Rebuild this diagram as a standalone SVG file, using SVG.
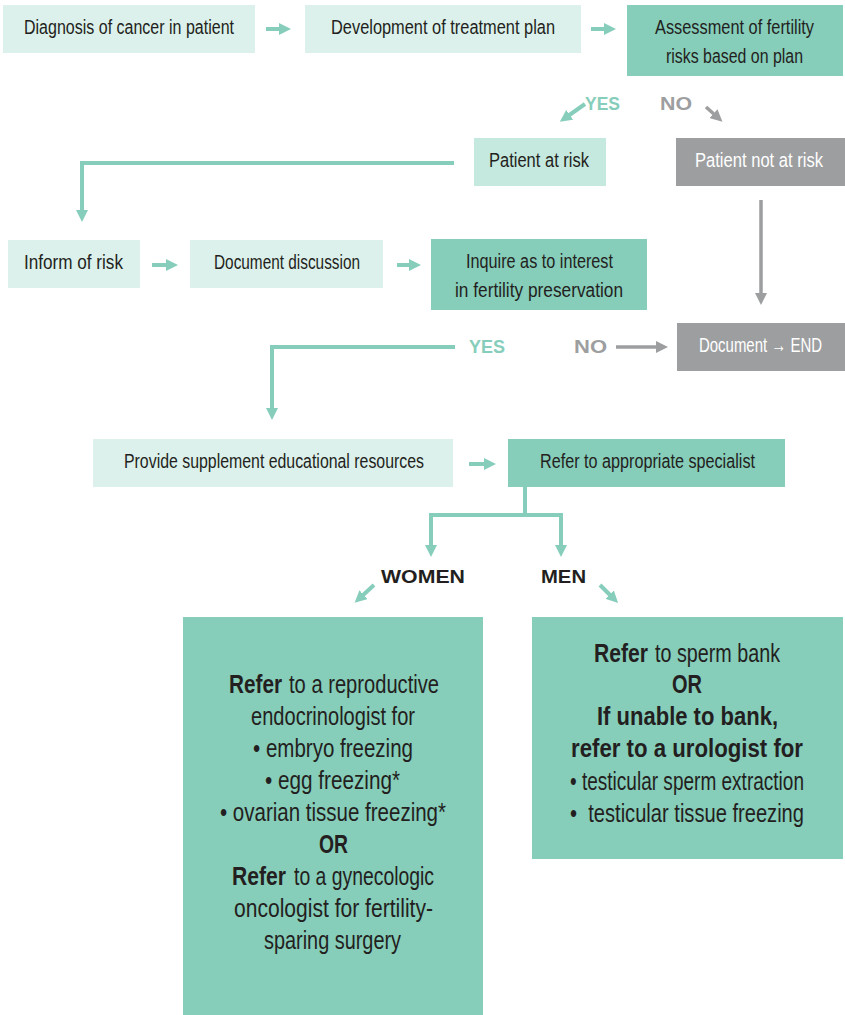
<svg xmlns="http://www.w3.org/2000/svg" width="845" height="1015" viewBox="0 0 845 1015">
<style>
text{font-family:"Liberation Sans",Arial,sans-serif;fill:#231f20}
.r{font-size:20px}
.b{font-size:25px}
.lbl{font-size:18px;font-weight:bold}
.bb{font-weight:bold}
.w{fill:#ffffff}
.lt{fill:#dcf1eb}
.md{fill:#c5e8df}
.dk{fill:#86cdba}
.gy{fill:#9d9ea0}
.cg{fill:none;stroke:#86cebb;stroke-width:4}
.cy{fill:none;stroke:#9d9ea0;stroke-width:3.5}
</style>
<defs>
<marker id="ag" viewBox="0 0 12 12" refX="2" refY="6" markerWidth="12" markerHeight="12" markerUnits="userSpaceOnUse" orient="auto"><path d="M0,0 L12,6 L0,12 z" fill="#86cebb"/></marker>
<marker id="ay" viewBox="0 0 12 12" refX="2" refY="6" markerWidth="12" markerHeight="12" markerUnits="userSpaceOnUse" orient="auto"><path d="M0,0 L12,6 L0,12 z" fill="#9d9ea0"/></marker>
</defs>
<rect width="845" height="1015" fill="#ffffff"/>
<g id="connectors">
<line class="cg" x1="266" y1="29" x2="281" y2="29" marker-end="url(#ag)"/>
<line class="cg" x1="591" y1="29" x2="606" y2="29" marker-end="url(#ag)"/>
<line class="cg" x1="585" y1="104" x2="568" y2="116" marker-end="url(#ag)"/>
<line class="cy" x1="706" y1="107" x2="715" y2="115" marker-end="url(#ay)"/>
<polyline class="cg" points="454,163 82,163 82,212" marker-end="url(#ag)"/>
<line class="cy" x1="761" y1="200" x2="761" y2="295" marker-end="url(#ay)"/>
<line class="cg" x1="152" y1="265" x2="168" y2="265" marker-end="url(#ag)"/>
<line class="cg" x1="397" y1="265" x2="411" y2="265" marker-end="url(#ag)"/>
<polyline class="cg" points="455,347 272,347 272,410" marker-end="url(#ag)"/>
<line class="cy" x1="616" y1="347" x2="658" y2="347" marker-end="url(#ay)"/>
<line class="cg" x1="469" y1="464" x2="486" y2="464" marker-end="url(#ag)"/>
<line class="cg" x1="525" y1="487" x2="525" y2="515"/>
<polyline class="cg" points="431,547 431,515 561,515 561,547"/>
<line class="cg" x1="431" y1="540" x2="431" y2="547" marker-end="url(#ag)"/>
<line class="cg" x1="561" y1="540" x2="561" y2="547" marker-end="url(#ag)"/>
<line class="cg" x1="374" y1="585" x2="362" y2="596" marker-end="url(#ag)"/>
<line class="cg" x1="600" y1="585" x2="611" y2="596" marker-end="url(#ag)"/>
</g>
<g id="labels">
<text class="lbl" x="585" y="110" textLength="35" lengthAdjust="spacingAndGlyphs" style="fill:#86cebb">YES</text>
<text class="lbl" x="660" y="110" textLength="32" lengthAdjust="spacingAndGlyphs" style="fill:#9d9ea0">NO</text>
<text class="lbl" x="469" y="353" textLength="36" lengthAdjust="spacingAndGlyphs" style="fill:#86cebb">YES</text>
<text class="lbl" x="574" y="353" textLength="33" lengthAdjust="spacingAndGlyphs" style="fill:#9d9ea0">NO</text>
<text class="lbl" x="381" y="583" textLength="84" lengthAdjust="spacingAndGlyphs">WOMEN</text>
<text class="lbl" x="541" y="583" textLength="45" lengthAdjust="spacingAndGlyphs">MEN</text>
</g>
<g id="n-diagnosis">
<rect class="lt" x="3" y="5" width="252" height="48"/>
<text class="r" transform="translate(24,34) scale(0.8,1)" textLength="262.5" lengthAdjust="spacingAndGlyphs">Diagnosis of cancer in patient</text>
</g>
<g id="n-development">
<rect class="lt" x="305" y="5" width="276" height="48"/>
<text class="r" transform="translate(331,34) scale(0.8,1)" textLength="280" lengthAdjust="spacingAndGlyphs">Development of treatment plan</text>
</g>
<g id="n-assessment">
<rect class="dk" x="627" y="5" width="216" height="71"/>
<text class="r" transform="translate(655,34) scale(0.8,1)" textLength="198.75" lengthAdjust="spacingAndGlyphs">Assessment of fertility</text>
<text class="r" transform="translate(666,63) scale(0.8,1)" textLength="171.25" lengthAdjust="spacingAndGlyphs">risks based on plan</text>
</g>
<g id="n-atrisk">
<rect class="md" x="474" y="138" width="132" height="48"/>
<text class="r" transform="translate(489,167) scale(0.8,1)" textLength="125" lengthAdjust="spacingAndGlyphs">Patient at risk</text>
</g>
<g id="n-notatrisk">
<rect class="gy" x="676" y="138" width="169" height="48"/>
<text class="r w" transform="translate(695,167) scale(0.8,1)" textLength="160" lengthAdjust="spacingAndGlyphs">Patient not at risk</text>
</g>
<g id="n-inform">
<rect class="lt" x="8" y="240" width="132" height="48"/>
<text class="r" transform="translate(24,269) scale(0.8,1)" textLength="123.75" lengthAdjust="spacingAndGlyphs">Inform of risk</text>
</g>
<g id="n-document">
<rect class="lt" x="190" y="240" width="193" height="48"/>
<text class="r" transform="translate(214,269) scale(0.8,1)" textLength="182.5" lengthAdjust="spacingAndGlyphs">Document discussion</text>
</g>
<g id="n-inquire">
<rect class="dk" x="431" y="239" width="216" height="71"/>
<text class="r" transform="translate(466,268) scale(0.8,1)" textLength="183.75" lengthAdjust="spacingAndGlyphs">Inquire as to interest</text>
<text class="r" transform="translate(455,297) scale(0.8,1)" textLength="210" lengthAdjust="spacingAndGlyphs">in fertility preservation</text>
</g>
<g id="n-end">
<rect class="gy" x="677" y="323" width="168" height="48"/>
<text class="r w" transform="translate(699,352) scale(0.8,1)" textLength="153.75" lengthAdjust="spacingAndGlyphs">Document → END</text>
</g>
<g id="n-provide">
<rect class="lt" x="93" y="439" width="360" height="48"/>
<text class="r" transform="translate(124,468) scale(0.8,1)" textLength="375" lengthAdjust="spacingAndGlyphs">Provide supplement educational resources</text>
</g>
<g id="n-refer">
<rect class="dk" x="508" y="439" width="277" height="48"/>
<text class="r" transform="translate(540,468) scale(0.8,1)" textLength="268.75" lengthAdjust="spacingAndGlyphs">Refer to appropriate specialist</text>
</g>
<g id="n-women">
<rect class="dk" x="183" y="617" width="300" height="398"/>
<text class="b bb" transform="translate(229,693) scale(0.8,1)" textLength="66.25" lengthAdjust="spacingAndGlyphs">Refer</text>
<text class="b" transform="translate(289,693) scale(0.8,1)" textLength="187.5" lengthAdjust="spacingAndGlyphs">to a reproductive</text>
<text class="b" transform="translate(251,725) scale(0.8,1)" textLength="205" lengthAdjust="spacingAndGlyphs">endocrinologist for</text>
<text class="b" transform="translate(253,757) scale(0.8,1)" textLength="200" lengthAdjust="spacingAndGlyphs">• embryo freezing</text>
<text class="b" transform="translate(265,789) scale(0.8,1)" textLength="168.75" lengthAdjust="spacingAndGlyphs">• egg freezing*</text>
<text class="b" transform="translate(220,821) scale(0.8,1)" textLength="282.5" lengthAdjust="spacingAndGlyphs">• ovarian tissue freezing*</text>
<text class="b bb" transform="translate(319,853) scale(0.8,1)" textLength="36.25" lengthAdjust="spacingAndGlyphs">OR</text>
<text class="b bb" transform="translate(232,885) scale(0.8,1)" textLength="67.5" lengthAdjust="spacingAndGlyphs">Refer</text>
<text class="b" transform="translate(294,885) scale(0.8,1)" textLength="175" lengthAdjust="spacingAndGlyphs">to a gynecologic</text>
<text class="b" transform="translate(234,917) scale(0.8,1)" textLength="248.75" lengthAdjust="spacingAndGlyphs">oncologist for fertility-</text>
<text class="b" transform="translate(264,949) scale(0.8,1)" textLength="171.25" lengthAdjust="spacingAndGlyphs">sparing surgery</text>
</g>
<g id="n-men">
<rect class="dk" x="532" y="617" width="311" height="242"/>
<text class="b bb" transform="translate(594,662) scale(0.8,1)" textLength="67.5" lengthAdjust="spacingAndGlyphs">Refer</text>
<text class="b" transform="translate(655,662) scale(0.8,1)" textLength="156.25" lengthAdjust="spacingAndGlyphs">to sperm bank</text>
<text class="b bb" transform="translate(672,693) scale(0.8,1)" textLength="37.5" lengthAdjust="spacingAndGlyphs">OR</text>
<text class="b bb" transform="translate(597,725) scale(0.8,1)" textLength="226.25" lengthAdjust="spacingAndGlyphs">If unable to bank,</text>
<text class="b bb" transform="translate(571,757) scale(0.8,1)" textLength="290" lengthAdjust="spacingAndGlyphs">refer to a urologist for</text>
<text class="b" transform="translate(570,790) scale(0.8,1)" textLength="292.5" lengthAdjust="spacingAndGlyphs">• testicular sperm extraction</text>
<text class="b" transform="translate(570,822) scale(0.8,1)" textLength="292.5" lengthAdjust="spacingAndGlyphs" xml:space="preserve">•  testicular tissue freezing</text>
</g>
</svg>
